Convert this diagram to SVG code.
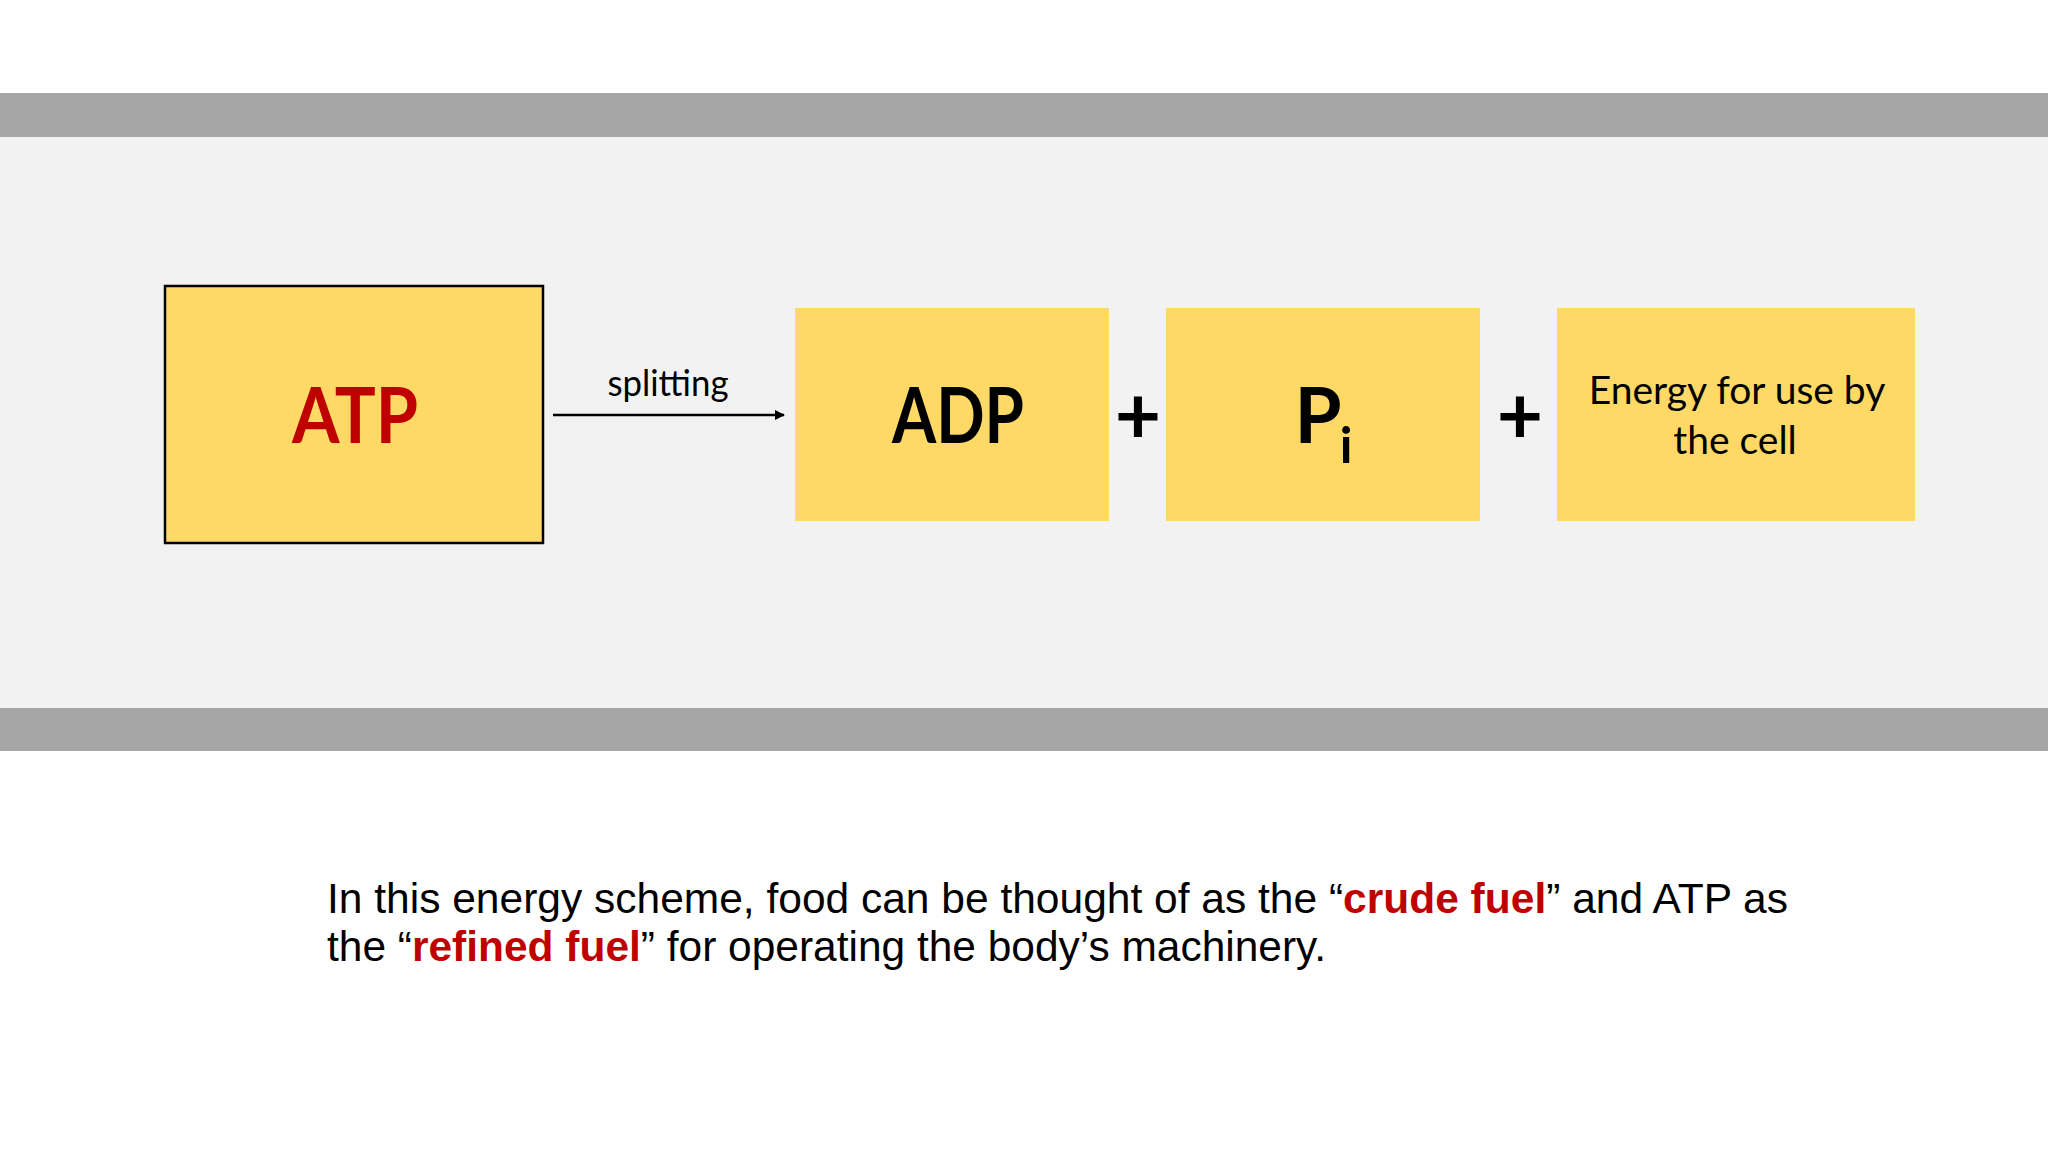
<svg xmlns="http://www.w3.org/2000/svg" width="2048" height="1152" viewBox="0 0 2048 1152">
  <defs>
    <style>
      .box { fill: #FFD966; }
      .big { font-family: Lato, "Open Sans", "Liberation Sans", sans-serif; font-weight: bold; font-size: 76px; text-anchor: middle; }
      .lbl { font-family: Lato, "Open Sans", "Liberation Sans", sans-serif; font-size: 37px; fill: #000; text-anchor: middle; }
      .en { font-size: 39px; }
      .plus { font-family: Lato, "Open Sans", "Liberation Sans", sans-serif; font-weight: bold; font-size: 80px; fill: #000; text-anchor: middle; }
      .cap { font-family: "Liberation Sans", Arial, sans-serif; font-size: 42.5px; fill: #000; }
      .hl { font-weight: bold; fill: #C00000; }
    </style>
    <marker id="arrow" markerWidth="10" markerHeight="10" refX="9" refY="5" orient="auto" markerUnits="userSpaceOnUse" viewBox="0 0 10 10">
      <path d="M0,0 L10,5 L0,10 z" fill="#000"/>
    </marker>
  </defs>

  <rect x="0" y="0" width="2048" height="1152" fill="#FFFFFF"/>
  <rect x="0" y="93" width="2048" height="44" fill="#A6A6A6"/>
  <rect x="0" y="137" width="2048" height="571" fill="#F2F2F2"/>
  <rect x="0" y="708" width="2048" height="43" fill="#A6A6A6"/>

  <g id="node-atp">
    <rect class="box" x="165" y="286" width="378" height="257" stroke="#000" stroke-width="2.5"/>
    <text class="big" x="355" y="443" fill="#C00000" textLength="126" lengthAdjust="spacingAndGlyphs">ATP</text>
  </g>

  <g id="connectors">
    <line x1="553" y1="415" x2="784" y2="415" stroke="#000" stroke-width="2.5" marker-end="url(#arrow)"/>
    <text class="lbl" x="668" y="396" textLength="121" lengthAdjust="spacingAndGlyphs">splitting</text>
  </g>

  <g id="node-adp">
    <rect class="box" x="795" y="308" width="314" height="213"/>
    <text class="big" x="958" y="443" fill="#000" textLength="132" lengthAdjust="spacingAndGlyphs">ADP</text>
  </g>

  <g id="plus-1">
    <text class="plus" x="1138" y="444">+</text>
  </g>

  <g id="node-pi">
    <rect class="box" x="1166" y="308" width="314" height="213"/>
    <text class="big" x="1318" y="443" fill="#000">P</text>
    <text x="1346" y="463" font-family="Lato, 'Open Sans', 'Liberation Sans', sans-serif" font-weight="bold" font-size="50" text-anchor="middle" fill="#000">i</text>
  </g>

  <g id="plus-2">
    <text class="plus" x="1520" y="444">+</text>
  </g>

  <g id="node-energy">
    <rect class="box" x="1557" y="308" width="358" height="213"/>
    <text class="lbl en" x="1737" y="404">Energy for use by</text>
    <text class="lbl en" x="1735" y="454">the cell</text>
  </g>

  <g id="caption">
    <text class="cap" x="327" y="913" textLength="1461" lengthAdjust="spacingAndGlyphs">In this energy scheme, food can be thought of as the “<tspan class="hl">crude fuel</tspan>” and ATP as</text>
    <text class="cap" x="327" y="961" textLength="999" lengthAdjust="spacingAndGlyphs">the “<tspan class="hl">refined fuel</tspan>” for operating the body’s machinery.</text>
  </g>
</svg>
